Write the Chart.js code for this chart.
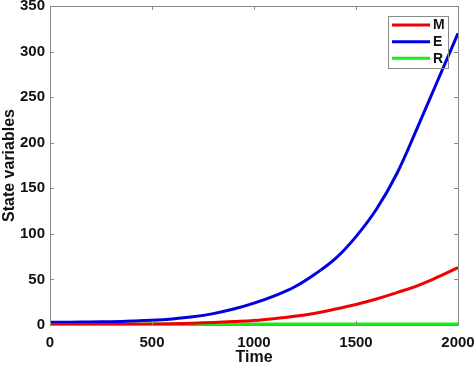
<!DOCTYPE html>
<html>
<head>
<meta charset="utf-8">
<script src="https://cdn.jsdelivr.net/npm/chart.js@4/dist/chart.umd.min.js"></script>
<style>
html,body{margin:0;padding:0;background:#fff;}
#wrap{width:474px;height:367px;position:relative;}
</style>
</head>
<body>
<div id="wrap"><canvas id="c" width="474" height="367"></canvas></div>
<script>
const times = [0,100,200,300,400,500,600,700,800,900,1000,1100,1200,1300,1400,1500,1600,1700,1800,1900,2000];
const seriesM = [0.2,0.25,0.35,0.5,0.7,1,1.4,2,2.8,3.8,5,7,9.5,13,17.5,22.5,28.5,35.5,43,52.5,63];
const seriesE = [3,3.1,3.3,3.7,4.3,5.2,6.7,9,12.5,17.5,24,32,42,56,73,97,127,166,216,268,320];
const seriesR = [1,1,1,1,1,1,1,1,1,1,1,1,1,1,1,1,1,1,1,1,1];
const legendLabels = ['M','E','R'];
const colors = ['#f00000','#0000e0','#14f014'];
const xTicks = [0,500,1000,1500,2000];
const yTicks = [0,50,100,150,200,250,300,350];

const FONT = "'Liberation Sans', Arial, sans-serif";
const AXIS_COLOR = '#8a8a8a';

function toXY(ys){ return times.map((t,i)=>({x:t,y:ys[i]})); }

const boxPlugin = {
  id:'matlabBox',
  afterDatasetsDraw(chart){
    const ctx = chart.ctx, a = chart.chartArea;
    const xs = chart.scales.x, ys = chart.scales.y;
    ctx.save();
    ctx.strokeStyle = AXIS_COLOR;
    ctx.lineWidth = 1;
    ctx.strokeRect(Math.round(a.left)+0.5, Math.round(a.top)+0.5, Math.round(a.right-a.left), Math.round(a.bottom-a.top));
    const L = 4;
    ctx.beginPath();
    xTicks.forEach(v=>{
      const px = Math.round(xs.getPixelForValue(v))+0.5;
      ctx.moveTo(px,a.bottom); ctx.lineTo(px,a.bottom-L);
      ctx.moveTo(px,a.top); ctx.lineTo(px,a.top+L);
    });
    yTicks.forEach(v=>{
      const py = Math.round(ys.getPixelForValue(v))+0.5;
      ctx.moveTo(a.left,py); ctx.lineTo(a.left+L,py);
      ctx.moveTo(a.right,py); ctx.lineTo(a.right-L,py);
    });
    ctx.stroke();
    // legend
    const bx = 388.5, by = 16.5, bw = 60, bh = 52;
    ctx.strokeStyle = '#8a8a8a';
    ctx.strokeRect(bx,by,bw,bh);
    ctx.font = "bold 14px " + FONT;
    ctx.textBaseline = 'middle';
    ctx.textAlign = 'left';
    const rows = [25,41.7,58.3];
    chart.data.datasets.forEach((ds,i)=>{
      ctx.strokeStyle = ds.borderColor;
      ctx.lineWidth = 3;
      ctx.beginPath();
      ctx.moveTo(392,rows[i]); ctx.lineTo(430,rows[i]);
      ctx.stroke();
      ctx.fillStyle = '#111';
      ctx.fillText(ds.label, 433, rows[i]+0.5);
    });
    ctx.restore();
  }
};

new Chart(document.getElementById('c'), {
  type:'line',
  data:{
    datasets:[
      {label:legendLabels[0], data:toXY(seriesM), borderColor:colors[0]},
      {label:legendLabels[1], data:toXY(seriesE), borderColor:colors[1]},
      {label:legendLabels[2], data:toXY(seriesR), borderColor:colors[2]}
    ]
  },
  options:{
    responsive:false,
    animation:false,
    layout:{padding:{left:0,right:16,top:6,bottom:0}},
    elements:{
      point:{radius:0},
      line:{borderWidth:3,tension:0.4,fill:false}
    },
    plugins:{legend:{display:false},tooltip:{enabled:false}},
    scales:{
      x:{
        type:'linear', min:0, max:2000,
        afterBuildTicks(s){ s.ticks = xTicks.map(v=>({value:v})); },
        afterFit(s){ s.height = 42; s.paddingLeft = 0; s.paddingRight = 0; },
        grid:{display:false, drawTicks:false},
        border:{display:false},
        ticks:{color:'#111', padding:9, maxRotation:0, callback:(v)=>String(v), font:{family:FONT, size:15, weight:'bold'}},
        title:{display:true, text:'Time', color:'#111', padding:0, font:{family:FONT, size:16, weight:'bold'}}
      },
      y:{
        type:'linear', min:0, max:350,
        afterBuildTicks(s){ s.ticks = yTicks.map(v=>({value:v})); },
        afterFit(s){ s.width = 50; s.paddingTop = 0; s.paddingBottom = 0; },
        grid:{display:false, drawTicks:false},
        border:{display:false},
        ticks:{color:'#111', padding:5, callback:(v)=>String(v), font:{family:FONT, size:15, weight:'bold'}},
        title:{display:true, text:'State variables', color:'#111', padding:0, font:{family:FONT, size:16, weight:'bold'}}
      }
    }
  },
  plugins:[boxPlugin]
});
</script>
</body>
</html>
